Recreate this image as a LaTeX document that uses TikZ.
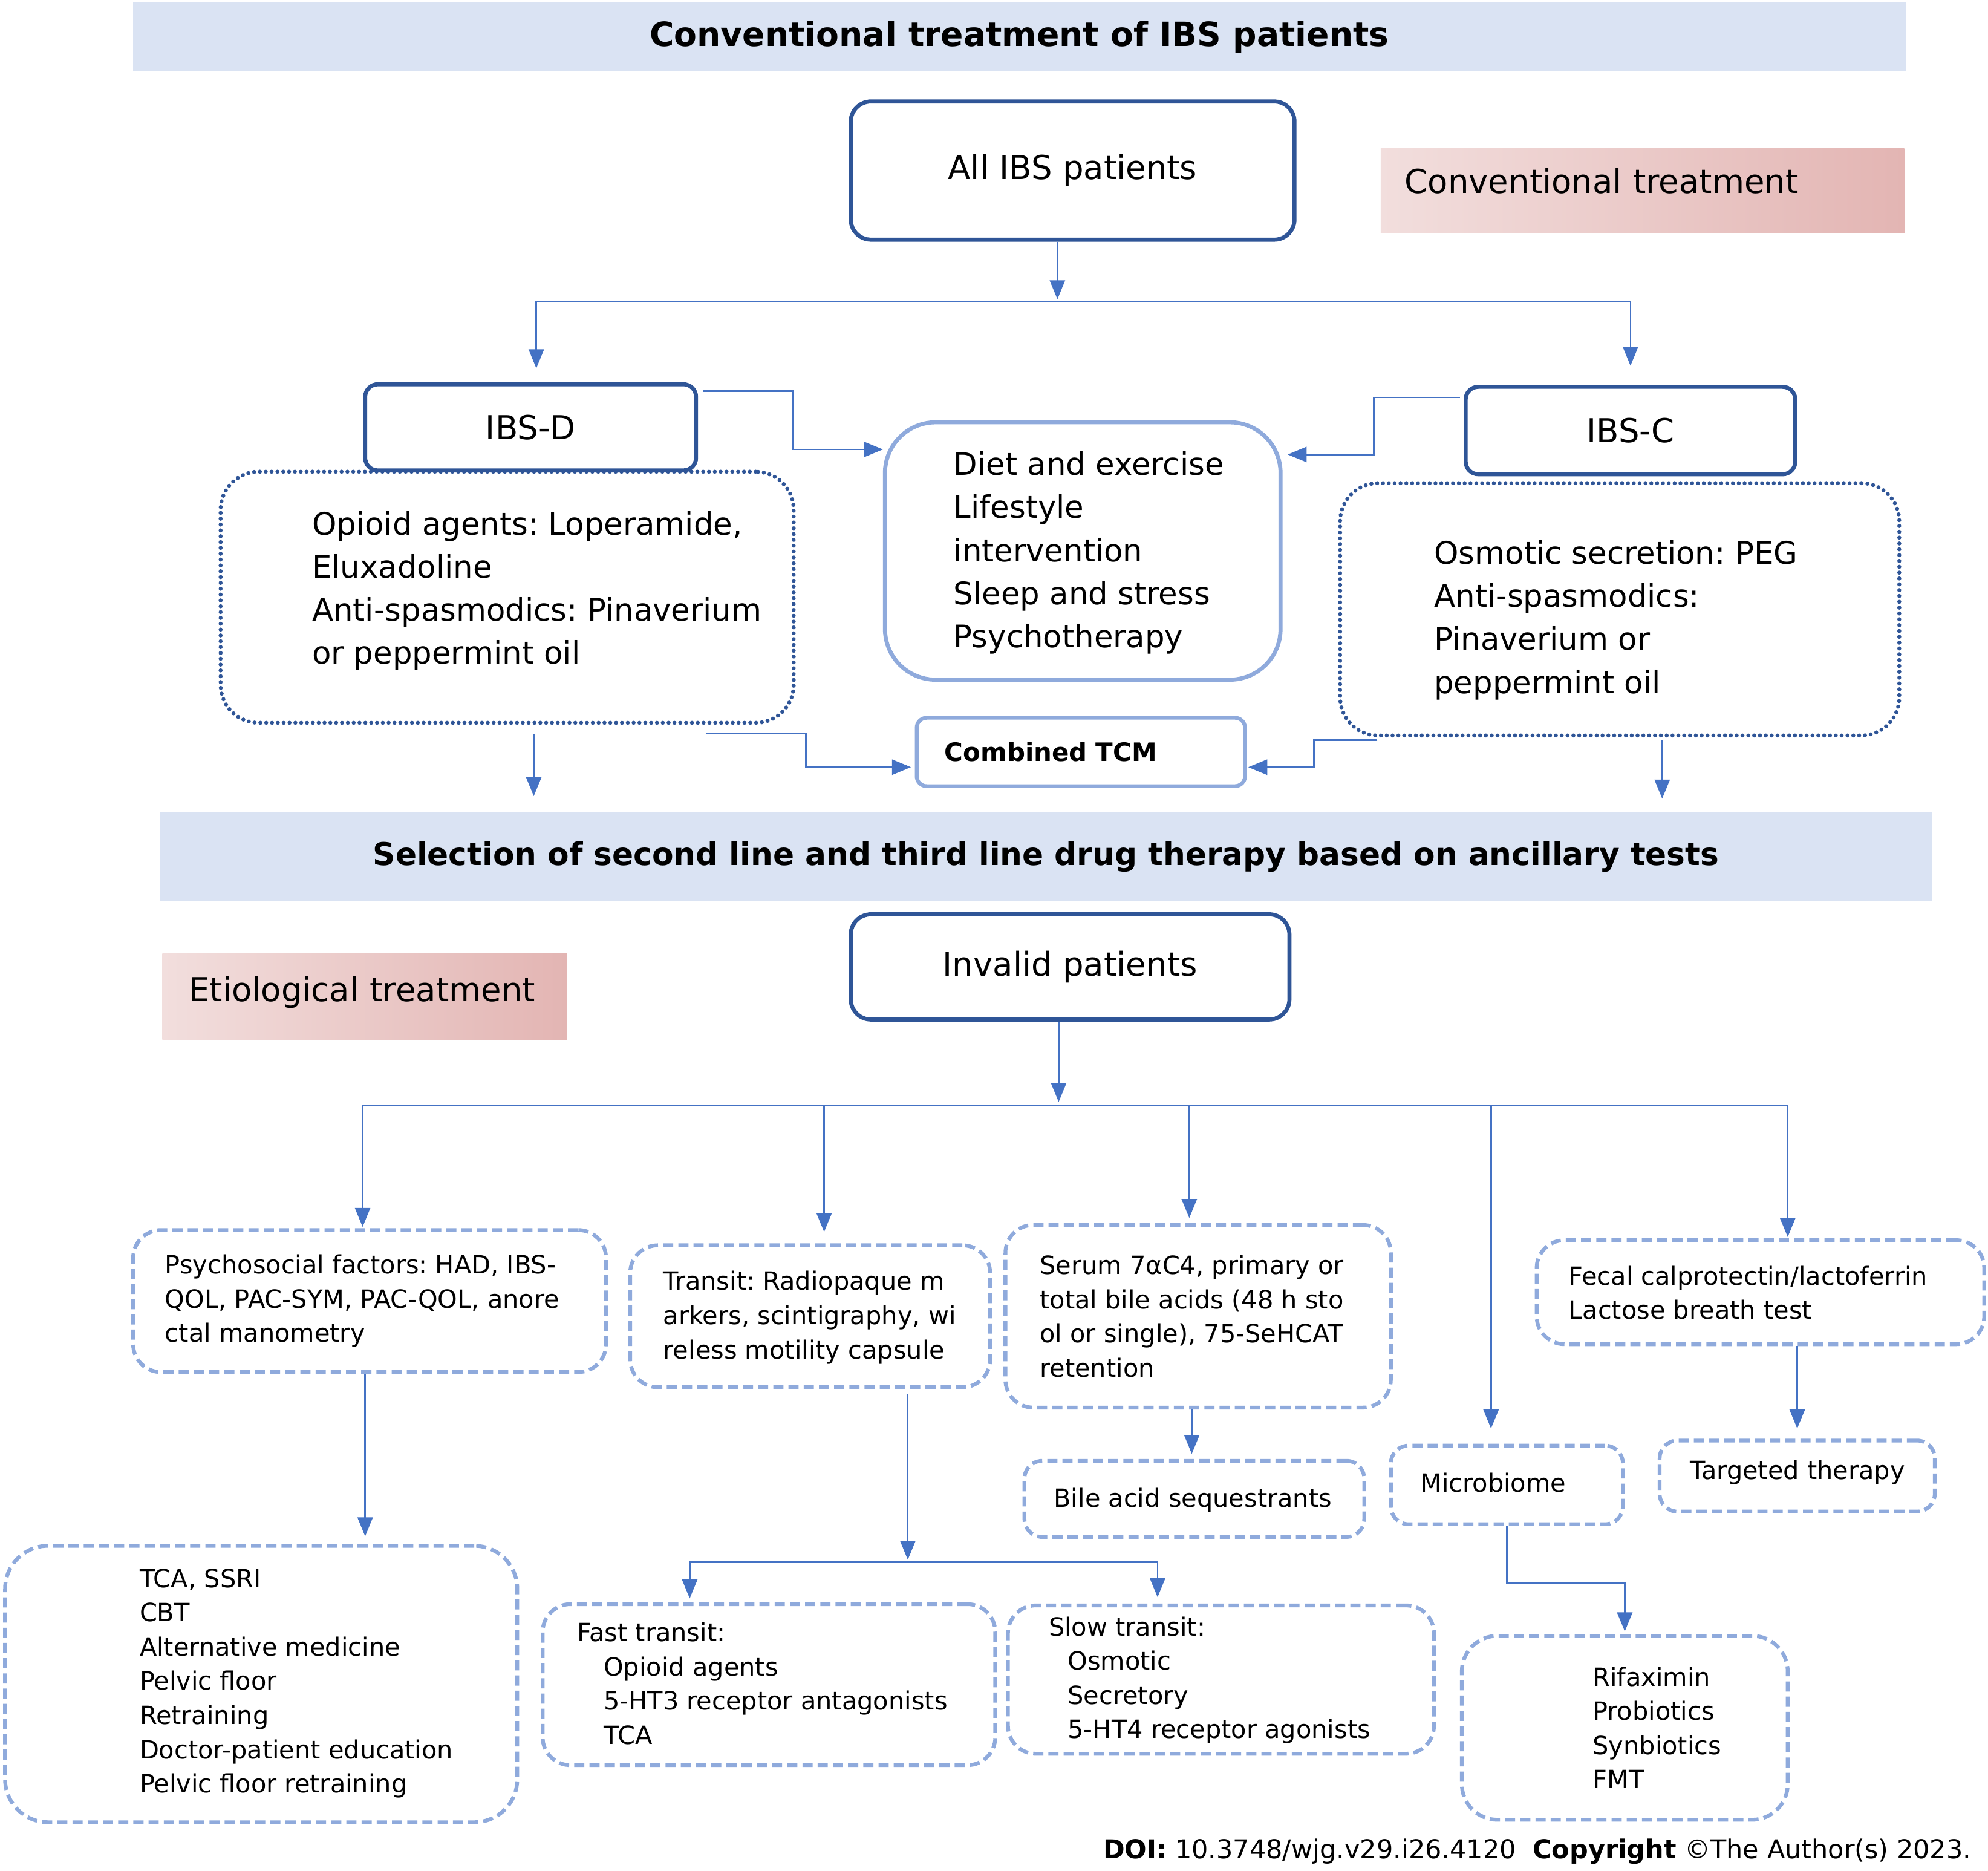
\documentclass[tikz,border=0pt]{standalone}
\usepackage{fontspec}
\setmainfont{DejaVu Sans}
\frenchspacing
\usetikzlibrary{arrows.meta}
\definecolor{darkblue}{HTML}{2F5597}
\definecolor{midblue}{HTML}{4472C4}
\definecolor{lightblue}{HTML}{8FAADC}
\definecolor{bandblue}{HTML}{DAE3F3}
\definecolor{pinkl}{HTML}{F2DEDD}
\definecolor{pinkr}{HTML}{E3B5B3}

\begin{document}
\begin{tikzpicture}[x=1pt,y=-1pt,
  big/.style={font=\fontsize{26}{34}\selectfont},
  txt/.style={font=\fontsize{24.5}{34}\selectfont,align=left,anchor=west,inner sep=0pt},
  small/.style={font=\fontsize{19.8}{27}\selectfont,align=left,anchor=west,inner sep=0pt},
  band/.style={fill=bandblue,inner sep=0pt},
  tag/.style={left color=pinkl,right color=pinkr,big,align=left,inner xsep=20pt},
  mainbox/.style={draw=darkblue,line width=3.2pt,rounded corners=16pt,big},
  dotbox/.style={draw=darkblue,line width=3.2pt,dash pattern=on 0pt off 4.6pt,line cap=round,rounded corners=30pt},
  dashbox/.style={draw=lightblue,line width=3pt,dash pattern=on 8pt off 4pt,rounded corners=22pt},
  arr/.style={draw=midblue,line width=1.3pt,-{Triangle[length=15pt,width=12pt]}}]
  \useasboundingbox (0,0) rectangle (1568,1475);
  \node[band,minimum width=1398pt,minimum height=54pt,font=\bfseries\fontsize{26.3}{30}\selectfont] (band1) at (804,29) {Conventional treatment of IBS patients};
  \node[mainbox,minimum width=350pt,minimum height=109pt] (allibs) at (846,134.5) {All IBS patients};
  \node[tag,minimum width=413pt,minimum height=67pt,inner xsep=19pt,text width=375pt,text depth=16pt] (convtag) at (1295.5,150.5) {Conventional treatment};
  \node[mainbox,rounded corners=10pt,minimum width=261pt,minimum height=68pt] (ibsd) at (418.5,337) {IBS-D};
  \node[mainbox,rounded corners=10pt,minimum width=260pt,minimum height=69pt] (ibsc) at (1286,339.5) {IBS-C};
  \node[dotbox,minimum width=452pt,minimum height=198pt] (opioid) at (400,471) {};
  \node[txt] (opioidtxt) at (246,466) {Opioid agents: Loperamide,\\Eluxadoline\\Anti-spasmodics: Pinaverium\\or peppermint oil};
  \node[dotbox,minimum width=441pt,minimum height=199pt] (osmotic) at (1277.5,480.5) {};
  \node[txt] (osmotictxt) at (1131,489) {Osmotic secretion: PEG\\Anti-spasmodics:\\Pinaverium or\\peppermint oil};
  \node[draw=lightblue,line width=3.2pt,rounded corners=40pt,minimum width=312pt,minimum height=203pt] (diet) at (854,434.5) {};
  \node[txt] (diettxt) at (752,436) {Diet and exercise\\Lifestyle\\intervention\\Sleep and stress\\Psychotherapy};
  \node[draw=lightblue,line width=3pt,rounded corners=8pt,minimum width=259pt,minimum height=54pt,inner xsep=22pt,text width=215pt,align=left,font=\bfseries\fontsize{20}{24}\selectfont] (tcm) at (852.5,593) {Combined TCM};
  \coordinate (split1) at (834,238);
  \draw[arr] (allibs.south -| split1) -- ([yshift=2pt]split1);
  \draw[arr,shorten >=11pt] (split1) -| ([xshift=4.5pt]ibsd.north);
  \draw[arr,shorten >=15pt] (split1) -| (ibsc.north);
  \draw[arr] ([xshift=4pt,yshift=-7pt]ibsd.north east) -| ([xshift=-71pt,yshift=-23pt]diet.north west) -- ([yshift=-23pt]diet.north west);
  \draw[arr] ([xshift=-3pt,yshift=-10pt]ibsc.north west) -| ([xshift=72pt,yshift=-27pt]diet.north east) -- ([xshift=4pt,yshift=-27pt]diet.north east);
  \draw[arr] ([xshift=-71pt,yshift=-7pt]opioid.south east) -| ([xshift=-86pt,yshift=-12pt]tcm.west) -- ([xshift=-3pt,yshift=-12pt]tcm.west);
  \draw[arr] ([xshift=31pt,yshift=-2pt]osmotic.south west) -| ([xshift=53pt,yshift=-12pt]tcm.east) -- ([xshift=1pt,yshift=-12pt]tcm.east);
  \node[band,minimum width=1398pt,minimum height=71pt,font=\bfseries\fontsize{24.7}{30}\selectfont] (band2) at (825,675.5) {Selection of second line and third line drug therapy based on ancillary tests};
  \draw[arr,shorten >=12pt] ([xshift=21pt,yshift=-7pt]opioid.south) -- ([xshift=21pt]opioid.south |- band2.north);
  \draw[arr,shorten >=10pt] ([xshift=33.5pt,yshift=-2pt]osmotic.south) -- ([xshift=33.5pt]osmotic.south |- band2.north);
  \node[tag,minimum width=319pt,minimum height=68pt,inner xsep=21pt,text width=277pt,text depth=12pt] (etiotag) at (287.5,786) {Etiological treatment};
  \node[mainbox,minimum width=346pt,minimum height=83pt] (invalid) at (844,762.5) {Invalid patients};
  \node[dashbox,minimum width=373pt,minimum height=112pt] (psycho) at (291.5,1026) {};
  \node[small] (psychotxt) at (130,1026) {Psychosocial factors: HAD, IBS-\\QOL, PAC-SYM, PAC-QOL, anore\\ctal manometry};
  \node[dashbox,minimum width=284pt,minimum height=112pt] (transit) at (639,1038) {};
  \node[small] (transittxt) at (523,1039) {Transit: Radiopaque m\\arkers, scintigraphy, wi\\reless motility capsule};
  \node[dashbox,minimum width=304pt,minimum height=144pt] (serum) at (945,1038) {};
  \node[small] (serumtxt) at (820,1038) {Serum 7αC4, primary or\\total bile acids (48 h sto\\ol or single), 75-SeHCAT\\retention};
  \node[dashbox,minimum width=353pt,minimum height=82pt] (fecal) at (1388.5,1019) {};
  \node[small] (fecaltxt) at (1237,1019.5) {Fecal calprotectin/lactoferrin\\Lactose breath test};
  \node[dashbox,rounded corners=14pt,minimum width=268pt,minimum height=60pt] (bile) at (942,1182) {};
  \node[small] (biletxt) at (831,1183) {Bile acid sequestrants};
  \node[dashbox,rounded corners=14pt,minimum width=183pt,minimum height=62pt] (micro) at (1188.5,1171) {};
  \node[small] (microtxt) at (1120,1169) {Microbiome};
  \node[dashbox,rounded corners=14pt,minimum width=217pt,minimum height=56pt] (target) at (1417.5,1164) {};
  \node[small] (targettxt) at (1333,1161) {Targeted therapy};
  \node[dashbox,rounded corners=34pt,minimum width=404pt,minimum height=218pt] (tcassri) at (206,1328) {};
  \node[small] (tcassritxt) at (110,1327.5) {TCA, SSRI\\CBT\\Alternative medicine\\Pelvic floor\\Retraining\\Doctor-patient education\\Pelvic floor retraining};
  \node[dashbox,minimum width=357pt,minimum height=127pt] (fast) at (606.5,1328.5) {};
  \node[small] (fasttxt) at (455,1327.5) {Fast transit:\\\hspace*{21pt}Opioid agents\\\hspace*{21pt}5-HT3 receptor antagonists\\\hspace*{21pt}TCA};
  \node[dashbox,minimum width=336pt,minimum height=117pt] (slow) at (963,1324.5) {};
  \node[small] (slowtxt) at (827,1325) {Slow transit:\\\hspace*{15pt}Osmotic\\\hspace*{15pt}Secretory\\\hspace*{15pt}5-HT4 receptor agonists};
  \node[dashbox,rounded corners=28pt,minimum width=257pt,minimum height=145pt] (rifax) at (1281.5,1362.5) {};
  \node[small] (rifaxtxt) at (1256,1362.5) {Rifaximin\\Probiotics\\Synbiotics\\FMT};
  \coordinate (split2) at (835,872);
  \coordinate (split3) at (716,1232);
  \draw[arr] (invalid.south -| split2) -- ([yshift=3pt]split2);
  \draw[arr,shorten >=1pt] (split2) -| ([xshift=-5.5pt]psycho.north);
  \draw[arr,shorten >=9pt] (split2) -| ([xshift=11pt]transit.north);
  \draw[arr,shorten >=4pt] (split2) -| ([xshift=-7pt]serum.north);
  \draw[arr,shorten >=12pt] (split2) -| ([xshift=-12.5pt]micro.north);
  \draw[arr,shorten >=1pt] (split2) -| ([xshift=21.5pt]fecal.north);
  \draw[arr,shorten >=6pt] ([xshift=-3.5pt]psycho.south) -- ([xshift=-3.5pt]psycho.south |- tcassri.north);
  \draw[arr] ([xshift=77pt,yshift=-4pt]transit.south) -- ([yshift=2pt]split3);
  \draw[arr,shorten >=3pt] (split3) -| ([xshift=-62.5pt]fast.north);
  \draw[arr,shorten >=5pt] (split3) -| ([xshift=-50pt]slow.north);
  \draw[arr,shorten >=4pt] ([xshift=-5pt]serum.south) -- ([xshift=-5pt]serum.south |- bile.north);
  \draw[arr,shorten >=8pt] (fecal.south -| target.north) -- (target.north);
  \draw[arr,shorten >=2pt] (micro.south) -- ++(0,45) -| (rifax.north);
  \node[anchor=east,inner sep=0pt,font=\fontsize{20.5}{24}\selectfont] (doi) at (1555,1460) {\textbf{DOI:} 10.3748/wjg.v29.i26.4120\ \ \textbf{Copyright} ©The Author(s) 2023.};
\end{tikzpicture}
\end{document}
